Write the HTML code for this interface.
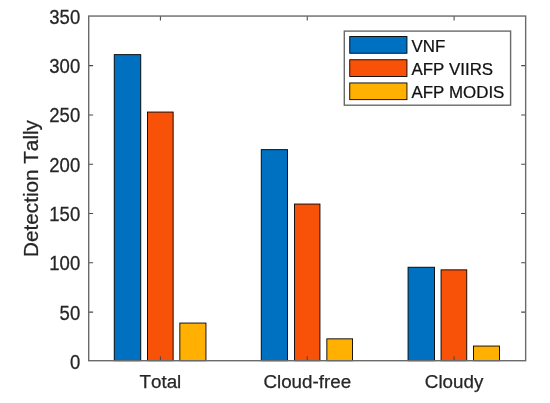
<!DOCTYPE html>
<html><head><meta charset="utf-8"><title>Detection Tally</title>
<style>html,body{margin:0;padding:0;background:#fff;}svg{display:block}text{font-family:"Liberation Sans",Arial,Helvetica,sans-serif;fill:#262626;stroke:#262626;stroke-width:0.25px;font-kerning:none;font-feature-settings:"kern" 0}</style></head><body>
<svg width="550" height="403" viewBox="0 0 550 403">
<rect x="0" y="0" width="550" height="403" fill="#ffffff"/>
<rect x="114.25" y="54.65" width="26.50" height="306.05" fill="#0071C0" stroke="#000" stroke-width="0.9"/>
<rect x="147.45" y="112.05" width="25.70" height="248.65" fill="#F85108" stroke="#000" stroke-width="0.9"/>
<rect x="179.85" y="323.05" width="26.10" height="37.65" fill="#FFB000" stroke="#000" stroke-width="0.9"/>
<rect x="261.25" y="149.65" width="26.30" height="211.05" fill="#0071C0" stroke="#000" stroke-width="0.9"/>
<rect x="294.45" y="204.05" width="25.50" height="156.65" fill="#F85108" stroke="#000" stroke-width="0.9"/>
<rect x="326.85" y="338.85" width="25.70" height="21.85" fill="#FFB000" stroke="#000" stroke-width="0.9"/>
<rect x="408.05" y="267.25" width="26.50" height="93.45" fill="#0071C0" stroke="#000" stroke-width="0.9"/>
<rect x="441.05" y="269.85" width="25.70" height="90.85" fill="#F85108" stroke="#000" stroke-width="0.9"/>
<rect x="473.55" y="346.05" width="26.00" height="14.65" fill="#FFB000" stroke="#000" stroke-width="0.9"/>
<path d="M88.7 312.10h4.4M525.65 312.10h-4.4M88.7 262.80h4.4M525.65 262.80h-4.4M88.7 213.50h4.4M525.65 213.50h-4.4M88.7 164.20h4.4M525.65 164.20h-4.4M88.7 114.90h4.4M525.65 114.90h-4.4M88.7 65.60h4.4M525.65 65.60h-4.4M160.40 360.7v-4.4M160.40 16.05v4.4M307.25 360.7v-4.4M307.25 16.05v4.4M454.10 360.7v-4.4M454.10 16.05v4.4" stroke="#484848" stroke-width="1.05" fill="none"/>
<rect x="88.7" y="16.05" width="436.95" height="344.65" fill="none" stroke="#6a6a6a" stroke-width="1.4"/>
<text transform="translate(80.2 368.90) scale(0.985 1.03)" font-size="18.8" text-anchor="end">0</text>
<text transform="translate(80.2 319.60) scale(0.985 1.03)" font-size="18.8" text-anchor="end">50</text>
<text transform="translate(80.2 270.30) scale(0.985 1.03)" font-size="18.8" text-anchor="end">100</text>
<text transform="translate(80.2 221.00) scale(0.985 1.03)" font-size="18.8" text-anchor="end">150</text>
<text transform="translate(80.2 171.70) scale(0.985 1.03)" font-size="18.8" text-anchor="end">200</text>
<text transform="translate(80.2 122.40) scale(0.985 1.03)" font-size="18.8" text-anchor="end">250</text>
<text transform="translate(80.2 73.10) scale(0.985 1.03)" font-size="18.8" text-anchor="end">300</text>
<text transform="translate(80.2 23.80) scale(0.985 1.03)" font-size="18.8" text-anchor="end">350</text>
<text transform="translate(160.40 388.45)" font-size="18.8" text-anchor="middle">Total</text>
<text transform="translate(307.25 388.45)" font-size="18.8" text-anchor="middle">Cloud-free</text>
<text transform="translate(454.10 388.45)" font-size="18.8" text-anchor="middle">Cloudy</text>
<text transform="translate(38.4 188.5) rotate(-90)" font-size="20.7" text-anchor="middle">Detection Tally</text>
<rect x="344.3" y="31.1" width="166.30" height="74.10" fill="#fff" stroke="#6a6a6a" stroke-width="1.4"/>
<rect x="349.75" y="36.55" width="57.20" height="16.70" fill="#0071C0" stroke="#000" stroke-width="0.9"/>
<text transform="translate(411.5 51.60) scale(1 0.97)" font-size="16.9" style="fill:#111;stroke:#111">VNF</text>
<rect x="349.75" y="59.75" width="57.20" height="16.70" fill="#F85108" stroke="#000" stroke-width="0.9"/>
<text transform="translate(411.5 74.80) scale(1 0.97)" font-size="16.9" style="fill:#111;stroke:#111">AFP VIIRS</text>
<rect x="349.75" y="82.95" width="57.20" height="16.70" fill="#FFB000" stroke="#000" stroke-width="0.9"/>
<text transform="translate(411.5 98.00) scale(1 0.97)" font-size="16.9" style="fill:#111;stroke:#111">AFP MODIS</text>
</svg></body></html>
